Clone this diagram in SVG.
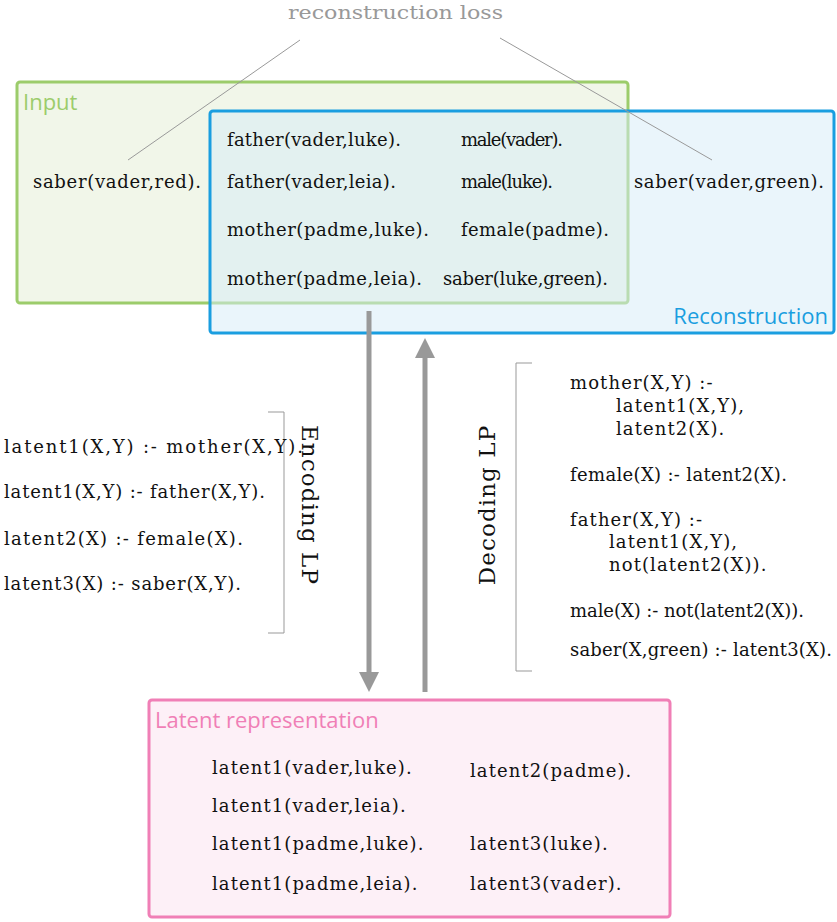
<svg xmlns="http://www.w3.org/2000/svg" width="837" height="922" viewBox="0 0 837 922">
<style>
.t{font-family:"DejaVu Serif","Liberation Serif",serif;font-size:18px;letter-spacing:1.1px;fill:#111}
.s{font-family:"Open Sans","Liberation Sans",sans-serif;font-size:22px}
.br{fill:none;stroke:#999;stroke-width:1}
</style>
<defs>
<marker id="ah" viewBox="0 0 10 10" refX="5" refY="5" markerWidth="4" markerHeight="4" orient="auto"><path d="M0,0L10,5L0,10z" fill="#999"/></marker>
</defs>
<rect width="837" height="922" fill="#fff"/>
<text x="288" y="19" textLength="215" lengthAdjust="spacingAndGlyphs" style="font-family:'DejaVu Serif',serif;font-size:19px;fill:#999">reconstruction loss</text>
<g id="input">
<rect x="17" y="82" width="611" height="221" rx="3" fill="#f1f6e9" stroke="#9ccc6b" stroke-width="3"/>
<text x="23" y="110" class="s" fill="#9ccc6b">Input</text>
</g>
<g id="reconstruction">
<rect x="210" y="111" width="624" height="222" rx="3" fill="#d6ecf8" fill-opacity="0.5" stroke="#1a9ee0" stroke-width="3"/>
<text x="828" y="324" class="s" fill="#1a9ee0" text-anchor="end">Reconstruction</text>
</g>
<g id="facts">
<text x="33" y="188" class="t" textLength="169">saber(vader,red).</text>
<text x="227" y="146" class="t" textLength="175">father(vader,luke).</text>
<text x="227" y="188" class="t" textLength="170">father(vader,leia).</text>
<text x="227" y="236" class="t" textLength="203">mother(padme,luke).</text>
<text x="227" y="285" class="t" textLength="196">mother(padme,leia).</text>
<text x="461" y="146" class="t" textLength="103">male(vader).</text>
<text x="461" y="188" class="t" textLength="93">male(luke).</text>
<text x="461" y="236" class="t" textLength="149">female(padme).</text>
<text x="443" y="285" class="t" textLength="166">saber(luke,green).</text>
<text x="634" y="188" class="t" textLength="191">saber(vader,green).</text>
</g>
<g id="latent">
<rect x="149" y="700" width="521" height="217" rx="3" fill="#fdf0f7" stroke="#f07fb6" stroke-width="3"/>
<text x="155" y="728" class="s" fill="#f07fb6">Latent representation</text>
<text x="212" y="774" class="t">latent1(vader,luke).</text>
<text x="212" y="812" class="t">latent1(vader,leia).</text>
<text x="212" y="850" class="t">latent1(padme,luke).</text>
<text x="212" y="890" class="t">latent1(padme,leia).</text>
<text x="470" y="777" class="t">latent2(padme).</text>
<text x="470" y="850" class="t">latent3(luke).</text>
<text x="470" y="890" class="t">latent3(vader).</text>
</g>
<g id="encoding">
<path class="br" d="M268,412H284V633H268"/>
<text x="4" y="453" class="t" textLength="300">latent1(X,Y) :- mother(X,Y).</text>
<text x="4" y="498" class="t" textLength="262">latent1(X,Y) :- father(X,Y).</text>
<text x="4" y="545" class="t" textLength="240">latent2(X) :-  female(X).</text>
<text x="4" y="590" class="t" textLength="238">latent3(X) :- saber(X,Y).</text>
<text transform="translate(302,505) rotate(90)" text-anchor="middle" class="t" style="font-size:23px">Encoding LP</text>
</g>
<g id="decoding">
<path class="br" d="M532,363H516V671H532"/>
<text x="570" y="389" class="t">mother(X,Y) :-</text>
<text x="616" y="412" class="t">latent1(X,Y),</text>
<text x="616" y="435" class="t">latent2(X).</text>
<text x="570" y="481" class="t" textLength="218">female(X) :- latent2(X).</text>
<text x="570" y="526" class="t">father(X,Y) :-</text>
<text x="609" y="548" class="t">latent1(X,Y),</text>
<text x="609" y="571" class="t">not(latent2(X)).</text>
<text x="570" y="617" class="t" textLength="235">male(X) :- not(latent2(X)).</text>
<text x="570" y="656" class="t" textLength="263">saber(X,green) :- latent3(X).</text>
<text transform="translate(495,505) rotate(-90)" text-anchor="middle" class="t" style="font-size:23px">Decoding LP</text>
</g>
<g id="connectors">
<line x1="300" y1="40" x2="128" y2="160" stroke="#999" stroke-width="1"/>
<line x1="500" y1="38" x2="712" y2="160" stroke="#999" stroke-width="1"/>
<line x1="369" y1="311" x2="369" y2="682" stroke="#999" stroke-width="5" marker-end="url(#ah)"/>
<line x1="425" y1="692" x2="425" y2="348" stroke="#999" stroke-width="5" marker-end="url(#ah)"/>
</g>
</svg>
